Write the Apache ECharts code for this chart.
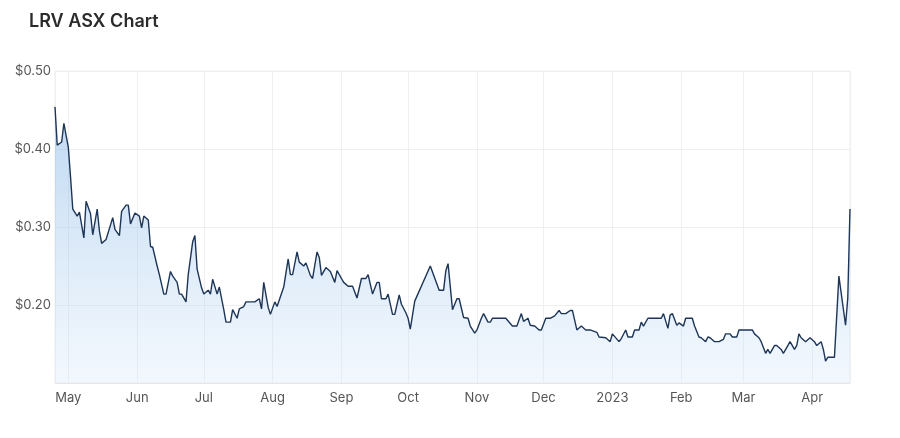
<!DOCTYPE html>
<html>
<head>
<meta charset="utf-8">
<script src="https://cdn.jsdelivr.net/npm/echarts@6/dist/echarts.min.js"></script>
<style>
html,body{margin:0;padding:0;background:#fff;}
#c{width:900px;height:438px;}
</style>
</head>
<body>
<div id="c"></div>
<script>
const title = 'LRV ASX Chart';
const dates = [
'2022-04-25','2022-04-26','2022-04-28','2022-04-29','2022-05-01','2022-05-02','2022-05-03','2022-05-05','2022-05-06','2022-05-08',
'2022-05-09','2022-05-11','2022-05-12','2022-05-14','2022-05-15','2022-05-16','2022-05-18','2022-05-21','2022-05-22','2022-05-24',
'2022-05-25','2022-05-27','2022-05-28','2022-05-29','2022-05-31','2022-06-02','2022-06-03','2022-06-04','2022-06-06','2022-06-07',
'2022-06-08','2022-06-10','2022-06-11','2022-06-13','2022-06-14','2022-06-16','2022-06-17','2022-06-19','2022-06-20','2022-06-21',
'2022-06-23','2022-06-24','2022-06-26','2022-06-27','2022-06-28','2022-06-30','2022-07-01','2022-07-03','2022-07-04','2022-07-05',
'2022-07-07','2022-07-08','2022-07-10','2022-07-11','2022-07-13','2022-07-14','2022-07-16','2022-07-17','2022-07-19','2022-07-20',
'2022-07-24','2022-07-26','2022-07-27','2022-07-28','2022-07-30','2022-07-31','2022-08-02','2022-08-03','2022-08-06','2022-08-08',
'2022-08-09','2022-08-10','2022-08-12','2022-08-13','2022-08-15','2022-08-16','2022-08-18','2022-08-19','2022-08-21','2022-08-22',
'2022-08-23','2022-08-25','2022-08-27','2022-08-29','2022-08-30','2022-09-01','2022-09-02','2022-09-04','2022-09-06','2022-09-08',
'2022-09-10','2022-09-12','2022-09-13','2022-09-15','2022-09-17','2022-09-18','2022-09-19','2022-09-21','2022-09-22','2022-09-24',
'2022-09-25','2022-09-27','2022-09-28','2022-09-30','2022-10-01','2022-10-02','2022-10-04','2022-10-11','2022-10-15','2022-10-17',
'2022-10-18','2022-10-19','2022-10-21','2022-10-23','2022-10-24','2022-10-26','2022-10-28','2022-10-29','2022-10-31','2022-11-01',
'2022-11-03','2022-11-04','2022-11-06','2022-11-07','2022-11-08','2022-11-14','2022-11-17','2022-11-19','2022-11-21','2022-11-22',
'2022-11-24','2022-11-25','2022-11-27','2022-11-29','2022-11-30','2022-12-02','2022-12-04','2022-12-06','2022-12-08','2022-12-09',
'2022-12-11','2022-12-13','2022-12-14','2022-12-16','2022-12-18','2022-12-20','2022-12-22','2022-12-25','2022-12-26','2022-12-29',
'2022-12-31','2023-01-01','2023-01-04','2023-01-05','2023-01-07','2023-01-08','2023-01-10','2023-01-11','2023-01-13','2023-01-14',
'2023-01-15','2023-01-17','2023-01-23','2023-01-24','2023-01-26','2023-01-27','2023-01-28','2023-01-30','2023-01-31','2023-02-02',
'2023-02-03','2023-02-06','2023-02-07','2023-02-09','2023-02-10','2023-02-12','2023-02-13','2023-02-14','2023-02-16','2023-02-18',
'2023-02-20','2023-02-21','2023-02-23','2023-02-24','2023-02-26','2023-02-27','2023-03-05','2023-03-06','2023-03-08','2023-03-09',
'2023-03-11','2023-03-12','2023-03-13','2023-03-15','2023-03-16','2023-03-18','2023-03-19','2023-03-21','2023-03-22','2023-03-24',
'2023-03-25','2023-03-26','2023-03-27','2023-03-29','2023-03-31','2023-04-02','2023-04-03','2023-04-05','2023-04-06','2023-04-07',
'2023-04-08','2023-04-11','2023-04-13','2023-04-16','2023-04-17','2023-04-18'
];
const prices = [
0.454,0.405,0.409,0.433,0.402,0.364,0.323,0.314,0.319,0.286,
0.333,0.317,0.290,0.323,0.295,0.279,0.284,0.312,0.297,0.289,
0.320,0.328,0.328,0.304,0.318,0.314,0.299,0.314,0.309,0.275,
0.274,0.250,0.239,0.214,0.214,0.243,0.237,0.229,0.214,0.214,
0.204,0.239,0.281,0.289,0.246,0.222,0.214,0.219,0.214,0.233,
0.214,0.223,0.194,0.178,0.178,0.194,0.183,0.195,0.198,0.204,
0.204,0.208,0.195,0.229,0.197,0.188,0.204,0.198,0.223,0.259,
0.239,0.239,0.268,0.255,0.250,0.254,0.238,0.234,0.268,0.261,
0.238,0.248,0.243,0.229,0.244,0.234,0.229,0.224,0.224,0.209,
0.234,0.234,0.239,0.214,0.229,0.229,0.208,0.208,0.214,0.188,
0.188,0.213,0.201,0.190,0.183,0.169,0.205,0.250,0.219,0.219,
0.244,0.253,0.194,0.208,0.208,0.184,0.183,0.173,0.164,0.168,
0.183,0.189,0.178,0.178,0.183,0.183,0.173,0.173,0.189,0.179,
0.183,0.174,0.173,0.168,0.168,0.183,0.183,0.186,0.193,0.189,
0.189,0.193,0.193,0.168,0.173,0.168,0.168,0.165,0.159,0.158,
0.153,0.163,0.153,0.157,0.168,0.159,0.159,0.168,0.168,0.178,
0.173,0.183,0.183,0.189,0.170,0.187,0.189,0.174,0.177,0.173,
0.183,0.183,0.173,0.159,0.158,0.153,0.159,0.158,0.153,0.153,
0.156,0.163,0.163,0.159,0.159,0.168,0.168,0.163,0.158,0.153,
0.138,0.143,0.138,0.148,0.148,0.143,0.138,0.148,0.153,0.143,
0.148,0.163,0.158,0.153,0.158,0.153,0.148,0.153,0.143,0.128,
0.133,0.133,0.237,0.174,0.209,0.323
];
const yTicks = [0.1, 0.2, 0.3, 0.4, 0.5];
const monthNames = ['Jan','Feb','Mar','Apr','May','Jun','Jul','Aug','Sep','Oct','Nov','Dec'];

const chart = echarts.init(document.getElementById('c'), null, {renderer:'canvas'});
chart.setOption({
  animation:false,
  backgroundColor:'#ffffff',
  title:{
    text:title, left:24, top:8,
    textStyle:{fontFamily:'Inter, "Open Sans", sans-serif', fontSize:18, fontWeight:600, color:'#2b2b2b'}
  },
  grid:{left:55, right:50, top:71, bottom:55, containLabel:false, show:true, borderColor:'#eeeeee', borderWidth:1},
  xAxis:{
    type:'time',
    min:dates[0], max:dates[dates.length-1],
    splitNumber:12,
    minInterval: 28*24*3600*1000,
    axisLine:{show:true, lineStyle:{color:'#e6e6e6'}},
    axisTick:{show:false},
    splitLine:{show:true, lineStyle:{color:'#efefef'}},
    axisLabel:{
      color:'#555', fontSize:13, fontFamily:'Inter, "Open Sans", sans-serif', margin:9,
      showMinLabel:false, showMaxLabel:false, hideOverlap:false,
      formatter:function(v){ const d=new Date(v); return d.getMonth()===0 ? String(d.getFullYear()) : monthNames[d.getMonth()]; },
      rich:{}
    }
  },
  yAxis:{
    type:'value', min:yTicks[0], max:yTicks[yTicks.length-1], interval:0.1,
    axisLine:{show:false}, axisTick:{show:false},
    splitLine:{show:true, lineStyle:{color:'#efefef'}},
    axisLabel:{
      color:'#555', fontSize:13, fontFamily:'Inter, "Open Sans", sans-serif', margin:4,
      showMinLabel:false,
      formatter:function(v){ return '$' + v.toFixed(2); }
    }
  },
  series:[{
    type:'line',
    data:dates.map((d,i)=>[d, prices[i]]),
    showSymbol:false,
    symbol:'none',
    lineStyle:{color:'#1d3557', width:1.4},
    areaStyle:{
      color:new echarts.graphic.LinearGradient(0,0,0,1,[
        {offset:0, color:'rgba(105,165,225,0.62)'},
        {offset:1, color:'rgba(215,232,250,0.45)'}
      ])
    }
  }]
});
</script>
</body>
</html>
